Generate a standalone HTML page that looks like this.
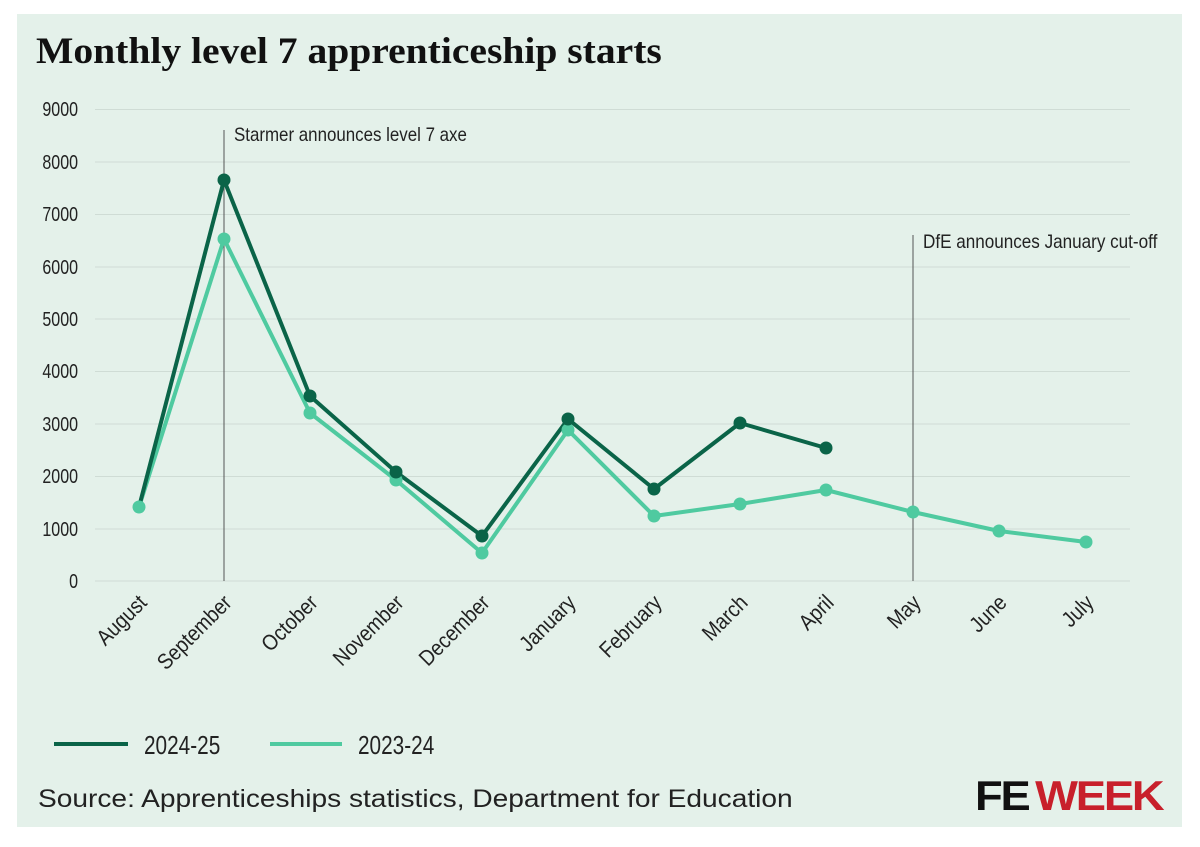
<!DOCTYPE html>
<html><head><style>
body{margin:0;background:#fff;}
svg{display:block;}
</style></head><body>
<svg width="1200" height="847" xmlns="http://www.w3.org/2000/svg">
<rect x="17" y="14" width="1165" height="813" fill="#e4f1ea"/>
<text font-family="Liberation Serif, serif" font-weight="bold" font-size="37" fill="#111" transform="translate(36,63) scale(1.07,1)">Monthly level 7 apprenticeship starts</text>
<g stroke="#cfdcd5" stroke-width="1">
<line x1="95" x2="1130" y1="109.5" y2="109.5"/><line x1="95" x2="1130" y1="162" y2="162"/><line x1="95" x2="1130" y1="214.5" y2="214.5"/><line x1="95" x2="1130" y1="267" y2="267"/><line x1="95" x2="1130" y1="319" y2="319"/><line x1="95" x2="1130" y1="371.5" y2="371.5"/><line x1="95" x2="1130" y1="424" y2="424"/><line x1="95" x2="1130" y1="476.5" y2="476.5"/><line x1="95" x2="1130" y1="529" y2="529"/><line x1="95" x2="1130" y1="581" y2="581"/>
</g>
<g font-family="Liberation Sans, sans-serif" font-size="20" fill="#222" text-anchor="end">
<text transform="translate(78,116) scale(0.8,1)">9000</text><text transform="translate(78,169) scale(0.8,1)">8000</text><text transform="translate(78,221) scale(0.8,1)">7000</text><text transform="translate(78,274) scale(0.8,1)">6000</text><text transform="translate(78,326) scale(0.8,1)">5000</text><text transform="translate(78,378) scale(0.8,1)">4000</text><text transform="translate(78,431) scale(0.8,1)">3000</text><text transform="translate(78,483) scale(0.8,1)">2000</text><text transform="translate(78,536) scale(0.8,1)">1000</text><text transform="translate(78,588) scale(0.8,1)">0</text>
</g>
<line x1="224" y1="130" x2="224" y2="581" stroke="#555" stroke-width="1"/>
<line x1="913" y1="235" x2="913" y2="581" stroke="#555" stroke-width="1"/>
<text font-family="Liberation Sans, sans-serif" font-size="19" fill="#222" transform="translate(234,141) scale(0.89,1)">Starmer announces level 7 axe</text>
<text font-family="Liberation Sans, sans-serif" font-size="19" fill="#222" transform="translate(923,248) scale(0.9,1)">DfE announces January cut-off</text>
<g fill="none" stroke-width="4" stroke-linejoin="round">
<polyline stroke="#4fcaa0" points="139,507 224,239 310,413 396,480 482,553 568,430 654,516 740,504 826,490 913,512 999,531 1086,542"/>
<polyline stroke="#0a6448" points="139,507 224,180 310,396 396,472 482,536 568,419 654,489 740,423 826,448"/>
</g>
<g fill="#4fcaa0">
<circle cx="139" cy="507" r="6.5"/><circle cx="224" cy="239" r="6.5"/><circle cx="310" cy="413" r="6.5"/><circle cx="396" cy="480" r="6.5"/><circle cx="482" cy="553" r="6.5"/><circle cx="568" cy="430" r="6.5"/><circle cx="654" cy="516" r="6.5"/><circle cx="740" cy="504" r="6.5"/><circle cx="826" cy="490" r="6.5"/><circle cx="913" cy="512" r="6.5"/><circle cx="999" cy="531" r="6.5"/><circle cx="1086" cy="542" r="6.5"/>
</g>
<g fill="#0a6448">
<circle cx="224" cy="180" r="6.5"/><circle cx="310" cy="396" r="6.5"/><circle cx="396" cy="472" r="6.5"/><circle cx="482" cy="536" r="6.5"/><circle cx="568" cy="419" r="6.5"/><circle cx="654" cy="489" r="6.5"/><circle cx="740" cy="423" r="6.5"/><circle cx="826" cy="448" r="6.5"/>
</g>
<g font-family="Liberation Sans, sans-serif" font-size="22" fill="#222" text-anchor="end">
<text transform="translate(148,604) rotate(-45) scale(0.88,1)">August</text>
<text transform="translate(233,604) rotate(-45) scale(0.88,1)">September</text>
<text transform="translate(319,604) rotate(-45) scale(0.88,1)">October</text>
<text transform="translate(405,604) rotate(-45) scale(0.88,1)">November</text>
<text transform="translate(491,604) rotate(-45) scale(0.88,1)">December</text>
<text transform="translate(577,604) rotate(-45) scale(0.88,1)">January</text>
<text transform="translate(663,604) rotate(-45) scale(0.88,1)">February</text>
<text transform="translate(749,604) rotate(-45) scale(0.88,1)">March</text>
<text transform="translate(835,604) rotate(-45) scale(0.88,1)">April</text>
<text transform="translate(922,604) rotate(-45) scale(0.88,1)">May</text>
<text transform="translate(1008,604) rotate(-45) scale(0.88,1)">June</text>
<text transform="translate(1095,604) rotate(-45) scale(0.88,1)">July</text>
</g>
<line x1="54" y1="744" x2="128" y2="744" stroke="#0a6448" stroke-width="4"/>
<line x1="270" y1="744" x2="342" y2="744" stroke="#4fcaa0" stroke-width="4"/>
<g font-family="Liberation Sans, sans-serif" font-size="26" fill="#222">
<text transform="translate(144,754) scale(0.8,1)">2024-25</text>
<text transform="translate(358,754) scale(0.8,1)">2023-24</text>
</g>
<text font-family="Liberation Sans, sans-serif" font-size="25" fill="#222" transform="translate(38,807) scale(1.125,1)">Source: Apprenticeships statistics, Department for Education</text>
<text font-family="Liberation Sans, sans-serif" font-weight="bold" font-size="42" fill="#111" letter-spacing="-2" transform="translate(975,810) scale(1.08,1)">FE<tspan fill="#c8202b" dx="6">WEEK</tspan></text>
</svg>
</body></html>
